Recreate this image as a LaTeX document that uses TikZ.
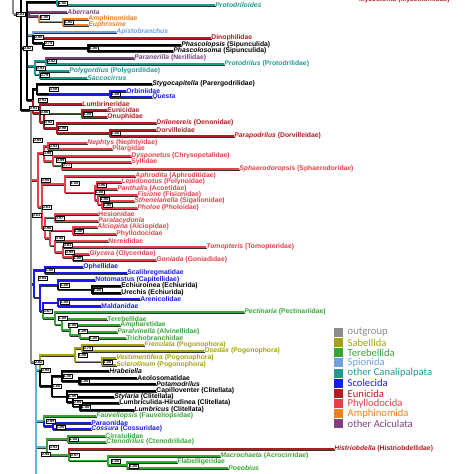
\documentclass[tikz,border=0pt]{standalone}
\usepackage{fontspec}
\setmainfont{Liberation Sans}
\newfontfamily\legfont{Carlito}
\definecolor{ogray}{HTML}{8C8C8C}
\definecolor{sabel}{HTML}{A3A20F}
\definecolor{tereb}{HTML}{35A735}
\definecolor{spion}{HTML}{6E9FDF}
\definecolor{canal}{HTML}{1F9A90}
\definecolor{scole}{HTML}{1818F0}
\definecolor{eunic}{HTML}{B01C22}
\definecolor{phyll}{HTML}{E4414A}
\definecolor{amphi}{HTML}{F07F1E}
\definecolor{acicu}{HTML}{7C4280}
\definecolor{spine}{HTML}{5BB8D4}
\begin{document}
\begin{tikzpicture}[x=1pt, y=-1pt,
		leaf/.style={anchor=west, inner sep=0.2pt, text=#1, font=\bfseries\fontsize{6.8}{7}\selectfont},
		leaf/.default=black,
		br/.style={line width=1.5pt, preaction={draw=black!80, line width=0.45pt, transform canvas={shift={(0.5pt,-1pt)}}}},
		boot/.style={anchor=west, fill=white, draw=black, line width=0.25pt, inner sep=0.4pt, font=\bfseries\fontsize{4}{4.5}\selectfont},
		legbox/.style={minimum size=9pt, inner sep=0pt},
		legtxt/.style={anchor=west, inner sep=1pt, font=\legfont\fontsize{10.6}{12}\selectfont}
		]
		\useasboundingbox (0,0) rectangle (474,474);
		\clip (0,0) rectangle (474,474);
		
		% Taxa, top to bottom
		\node[leaf=eunic] (myzo) at (359,0) {\textit{Myzostoma} (Myzostomidae)};
		\node[leaf=canal] (protd) at (215,5) {\textit{Protodriloides}};
		\node[leaf=acicu] (aber) at (67,12) {\textit{Aberranta}};
		\node[leaf=amphi] (amph) at (88,19) {Amphinomidae};
		\node[leaf=amphi] (euph) at (88,25) {\textit{Euphrosine}};
		\node[leaf=spion] (apis) at (116,32) {\textit{Apistobranchus}};
		\node[leaf=eunic] (dino) at (211,38) {Dinophilidae};
		\node[leaf] (phop) at (181,45) {\textit{Phascolopsis} (Sipunculida)};
		\node[leaf] (phos) at (173,51) {\textit{Phascolosoma} (Sipunculida)};
		\node[leaf=acicu] (para) at (134,58) {\textit{Paranerilla} (Nerillidae)};
		\node[leaf=canal] (prot) at (224,64) {\textit{Protodrilus} (Protodrilidae)};
		\node[leaf=canal] (poly) at (69,71) {\textit{Polygordius} (Polygordiidae)};
		\node[leaf=canal] (sacc) at (87,78) {\textit{Saccocirrus}};
		\node[leaf] (styg) at (152,84) {\textit{Stygocapitella} (Parergodrilidae)};
		\node[leaf=scole] (orbi) at (126,91) {Orbiniidae};
		\node[leaf=scole] (ques) at (152,97) {\textit{Questa}};
		\node[leaf=eunic] (lumb) at (82,104) {Lumbrineridae};
		\node[leaf=eunic] (euni) at (107,110) {Eunicidae};
		\node[leaf=eunic] (onup) at (107,117) {Onuphidae};
		\node[leaf=eunic] (dril) at (156,123) {\textit{Drilonereis} (Oenonidae)};
		\node[leaf=eunic] (dorv) at (156,130) {Dorvilleidae};
		\node[leaf=eunic] (parap) at (234,136) {\textit{Parapodrilus} (Dorvilleidae)};
		\node[leaf=phyll] (neph) at (87,143) {\textit{Nephtys} (Nephtyidae)};
		\node[leaf=phyll] (pila) at (112,149) {Pilargidae};
		\node[leaf=phyll] (dysp) at (131,156) {\textit{Dysponetus} (Chrysopetalidae)};
		\node[leaf=phyll] (syll) at (131,162) {Syllidae};
		\node[leaf=phyll] (spha) at (239,169) {\textit{Sphaerodoropsis} (Sphaerodoridae)};
		\node[leaf=phyll] (aphr) at (135,176) {\textit{Aphrodita} (Aphroditidae)};
		\node[leaf=phyll] (lepi) at (121,182) {\textit{Lepidonotus} (Polynoidae)};
		\node[leaf=phyll] (pant) at (117,189) {\textit{Panthalis} (Acoetidae)};
		\node[leaf=phyll] (fisi) at (137,195) {\textit{Fisione} (Fisionidae)};
		\node[leaf=phyll] (sthe) at (134,201) {\textit{Sthenelanella} (Sigalionidae)};
		\node[leaf=phyll] (phol) at (137,208) {\textit{Pholoe} (Pholoidae)};
		\node[leaf=phyll] (hesi) at (98,214) {Hesionidae};
		\node[leaf=phyll] (parl) at (98,221) {\textit{Paralacydonia}};
		\node[leaf=phyll] (alci) at (97,227) {\textit{Alciopina} (Alciopidae)};
		\node[leaf=phyll] (phyl) at (116,234) {Phyllodocidae};
		\node[leaf=phyll] (nere) at (108,241) {Nereididae};
		\node[leaf=phyll] (tomo) at (206,247) {\textit{Tomopteris} (Tomopteridae)};
		\node[leaf=phyll] (glyc) at (89,254) {\textit{Glycera} (Glyceridae)};
		\node[leaf=phyll] (goni) at (156,260) {\textit{Goniada} (Goniadidae)};
		\node[leaf=scole] (ophe) at (83,267) {Ophellidae};
		\node[leaf=scole] (scal) at (127,273) {Scalibregmatidae};
		\node[leaf=scole] (noto) at (95,280) {Notomastus (Capitellidae)};
		\node[leaf] (echi) at (121,286) {Echiuroinea (Echiurida)};
		\node[leaf] (urec) at (121,293) {Urechis (Echiurida)};
		\node[leaf=scole] (aren) at (140,299) {Arenicolidae};
		\node[leaf=scole] (mald) at (101,306) {Maldanidae};
		\node[leaf=tereb] (pect) at (244,312) {\textit{Pectinaria} (Pectinariidae)};
		\node[leaf=tereb] (tere) at (107,319) {Terebellidae};
		\node[leaf=tereb] (ampr) at (120,325) {Ampharetidae};
		\node[leaf=tereb] (palv) at (117,332) {\textit{Paralvinella} (Alvinellidae)};
		\node[leaf=tereb] (tric) at (126,338) {Trichobranchidae};
		\node[leaf=sabel] (fren) at (144,345) {\textit{Frenulata} (Pogonophora)};
		\node[leaf=sabel] (osed) at (204,351) {\textit{Osedax} (Pogonophora)};
		\node[leaf=sabel] (vest) at (116,358) {\textit{Vestimentifera} (Pogonophora)};
		\node[leaf=sabel] (scle) at (116,365) {\textit{Sclerolinum} (Pogonophora)};
		\node[leaf] (hrab) at (109,371) {\textit{Hrabeiella}};
		\node[leaf] (aeol) at (137,378) {Aeolosomatidae};
		\node[leaf] (pota) at (156,384) {\textit{Potamodrilus}};
		\node[leaf] (capi) at (156,391) {Capilloventer (Clitellata)};
		\node[leaf] (styl) at (114,397) {\textit{Stylaria} (Clitellata)};
		\node[leaf] (lumh) at (119,403) {Lumbriculida-Hirudinea (Clitellata)};
		\node[leaf] (lumr) at (134,410) {\textit{Lumbricus} (Clitellata)};
		\node[leaf=tereb] (fauv) at (96,416) {\textit{Fauveliopsis} (Fauveliopsidae)};
		\node[leaf=scole] (parn) at (91,423) {Paraonidae};
		\node[leaf=scole] (coss) at (91,429) {\textit{Cossura} (Cossuridae)};
		\node[leaf=tereb] (cirr) at (105,436) {Cirratulidae};
		\node[leaf=tereb] (cten) at (106,442) {\textit{Ctenodrilus} (Ctenodrilidae)};
		\node[leaf=eunic] (hist) at (334,449) {\textit{Histriobdella} (Histriobdellidae)};
		\node[leaf=tereb] (macr) at (220,456) {\textit{Macrochaeta} (Acrocirridae)};
		\node[leaf=tereb] (flab) at (177,462) {Flabelligeridae};
		\node[leaf=tereb] (poeo) at (228,468) {\textit{Poeobius}};
		
		% Internal nodes
		\coordinate (cut83) at (13,-8);
		\coordinate (n83) at (13,14);
		\coordinate (cut82) at (21,-8);
		\coordinate (n82) at (21,14);
		\coordinate (nV4) at (27,48);
		\coordinate (cutPd) at (150,-6);
		\coordinate (pd) at (57,2);
		\coordinate (nAb) at (28.5,16);
		\coordinate (nAmA) at (39,16);
		\coordinate (nAm) at (63,21.5);
		\coordinate (nApi) at (33,35);
		\coordinate (nSipA) at (43,43);
		\coordinate (nSip) at (88,48);
		\coordinate (nPar) at (35,66);
		\coordinate (nPN) at (46,61);
		\coordinate (nPS) at (40,74.5);
		\coordinate (nE91) at (33,100);
		\coordinate (nSty) at (37,89);
		\coordinate (nOrbA) at (49,94);
		\coordinate (nOrb) at (110,94);
		\coordinate (nE86) at (40,113);
		\coordinate (nE92) at (44,122);
		\coordinate (nEun) at (82,113.5);
		\coordinate (nDor) at (57,128);
		\coordinate (nDor2) at (110,133);
		\coordinate (nV5) at (31,110);
		\coordinate (nP95) at (38,180);
		\coordinate (nQ) at (44,153);
		\coordinate (nNP) at (48,146);
		\coordinate (nS1) at (53,160.75);
		\coordinate (nS2) at (62,165.5);
		\coordinate (nL61) at (42,207);
		\coordinate (nA0) at (65,184);
		\coordinate (nA1) at (95,192.6);
		\coordinate (nA2) at (97,185.5);
		\coordinate (nA3) at (98,199.75);
		\coordinate (nA4) at (102,204.5);
		\coordinate (nL98) at (45,228);
		\coordinate (nHes) at (55,217.5);
		\coordinate (nAN) at (50,238);
		\coordinate (nAlc) at (73,230.5);
		\coordinate (nNe) at (55,245.5);
		\coordinate (nTo) at (63,252);
		\coordinate (nGl) at (73,257);
		\coordinate (nB94) at (34,284);
		\coordinate (nOph) at (45,270);
		\coordinate (nB2) at (40,297.5);
		\coordinate (nCap) at (58,284.75);
		\coordinate (nEch) at (92,289.5);
		\coordinate (nB67) at (43,311);
		\coordinate (nAre) at (58,302.5);
		\coordinate (nT1) at (55,318);
		\coordinate (nT2) at (62,324.5);
		\coordinate (nT3) at (70,330);
		\coordinate (nT4) at (80,335);
		\coordinate (nV6) at (36,362);
		\coordinate (cut6) at (36,480);
		\coordinate (nC0) at (40,370);
		\coordinate (nSb0) at (75,355);
		\coordinate (nSb1) at (82,348);
		\coordinate (nSb2) at (102,361.5);
		\coordinate (nCl3) at (52,386);
		\coordinate (nCl4) at (62,376);
		\coordinate (nCl5) at (79,381);
		\coordinate (nCl6) at (67,396.4);
		\coordinate (nCl7) at (73,401.75);
		\coordinate (nCl8) at (80,406.5);
		\coordinate (nF0) at (44,421);
		\coordinate (nPC) at (53,426);
		\coordinate (nG0) at (47,447);
		\coordinate (nCi) at (68,439);
		\coordinate (nG1) at (69,454.75);
		\coordinate (nG2) at (108,460.5);
		\coordinate (nG3) at (127,465);
		
		% Backbone
		\draw[br, ogray] (n83) -- (cut83);
		\draw[br, ogray] (n83) -- (n82);
		\draw[br] (n82) -- (cut82);
		\draw[br] (n82) |- (nV5);
		\draw[br] (n82) |- (nV4);
		
		% Upper clades
		\draw[br, acicu] (nV4) |- (nAb);
		\draw[br, canal] (nV4) |- (nPar);
		\draw[br, spion] (nV4) |- (nApi);
		\draw[br] (nV4) |- (pd);
		\draw[br] (nV4) |- (nE91);
		\draw[br, canal] (pd) |- (protd) (pd) |- (cutPd);
		\draw[br, acicu] (nAb) |- (aber) (nAb) |- (nAmA);
		\draw[br, amphi] (nAmA) |- (nAm) (nAm) |- (amph) (nAm) |- (euph);
		\draw[br, spion] (nApi) |- (apis);
		\draw[br, eunic] (nApi) |- (dino);
		\draw[br] (nApi) |- (nSipA) (nSipA) |- (nSip) (nSip) |- (phop) (nSip) |- (phos);
		\draw[br, acicu] (nPN) |- (para);
		\draw[br, canal] (nPar) |- (nPN) (nPN) |- (prot) (nPar) |- (nPS) (nPS) |- (poly) (nPS) |- (sacc);
		\draw[br] (nE91) |- (nSty) (nSty) |- (styg) (nSty) |- (nOrbA);
		\draw[br, scole] (nOrbA) -- (nOrb) (nOrb) |- (orbi) (nOrb) |- (ques);
		
		% Eunicida
		\draw[br, eunic] (nE91) |- (nE86) (nE86) |- (lumb) (nE86) |- (nE92)
			(nE92) |- (nEun) (nEun) |- (euni) (nEun) |- (onup)
			(nE92) |- (nDor) (nDor) |- (dril) (nDor) |- (nDor2) (nDor2) |- (dorv) (nDor2) |- (parap);
		
		% Phyllodocida
		\draw[br, phyll] (nV5) |- (nP95) (nP95) |- (nQ) (nP95) |- (nL61)
			(nQ) |- (nNP) (nNP) |- (neph) (nNP) |- (pila)
			(nQ) |- (nS1) (nS1) |- (dysp) (nS1) |- (nS2) (nS2) |- (syll) (nS2) |- (spha)
			(nL61) |- (nA0) (nA0) |- (aphr) (nA0) |- (nA1)
			(nA1) |- (nA2) (nA2) |- (lepi) (nA2) |- (pant)
			(nA1) |- (nA3) (nA3) |- (fisi) (nA3) |- (nA4) (nA4) |- (sthe) (nA4) |- (phol)
			(nL61) |- (nL98) (nL98) |- (nHes) (nHes) |- (hesi) (nHes) |- (parl)
			(nL98) |- (nAN) (nAN) |- (nAlc) (nAlc) |- (alci) (nAlc) |- (phyl)
			(nAN) |- (nNe) (nNe) |- (nere) (nNe) |- (nTo) (nTo) |- (tomo) (nTo) |- (nGl)
			(nGl) |- (glyc) (nGl) |- (goni);
		
		% Scolecida and Terebellida
		\draw[br, scole] (nV5) |- (nB94) (nB94) |- (nOph) (nOph) |- (ophe) (nOph) |- (scal)
			(nB94) |- (nB2) (nB2) |- (nCap) (nCap) |- (noto)
			(nB2) |- (nB67) (nB67) |- (nAre) (nAre) |- (aren) (nAre) |- (mald);
		\draw[br] (nCap) |- (nEch) (nEch) |- (echi) (nEch) |- (urec);
		\draw[br, tereb] (nB67) |- (nT1) (nT1) |- (pect) (nT1) |- (nT2) (nT2) |- (tere)
			(nT2) |- (nT3) (nT3) |- (ampr) (nT3) |- (nT4) (nT4) |- (palv) (nT4) |- (tric);
		\draw[br, ogray] (nV5) |- (nV6);
		
		% Lower backbone
		\draw[br, spine] (nV6) |- (nC0) (nV6) |- (nF0) (nV6) |- (nG0) (nV6) -- (cut6);
		\draw[br, sabel] (nC0) |- (nSb0) (nSb0) |- (nSb1) (nSb1) |- (fren) (nSb1) |- (osed)
			(nSb0) |- (nSb2) (nSb2) |- (vest) (nSb2) |- (scle);
		\draw[br] (nC0) |- (nCl3) (nCl3) |- (nCl4) (nCl4) |- (hrab) (nCl4) |- (nCl5)
			(nCl5) |- (aeol) (nCl5) |- (pota)
			(nCl3) |- (nCl6) (nCl6) |- (capi) (nCl6) |- (nCl7) (nCl7) |- (styl)
			(nCl7) |- (nCl8) (nCl8) |- (lumh) (nCl8) |- (lumr);
		\draw[br, tereb] (nF0) |- (fauv);
		\draw[br, scole] (nF0) |- (nPC) (nPC) |- (parn) (nPC) |- (coss);
		\draw[br, eunic] (nG1) |- (hist);
		\draw[br, tereb] (nG0) |- (nCi) (nCi) |- (cirr) (nCi) |- (cten) (nG0) |- (nG1)
			(nG1) |- (nG2) (nG2) |- (macr) (nG2) |- (nG3) (nG3) |- (flab) (nG3) |- (poeo);
		
		% Support values
		\foreach \x/\y/\v [count=\i] in {58/3/1.00, 16/14/0.83, 40/17/1.00, 64/22/1.00, 34/37/0.95,
			44/43/0.74, 89/48/1.00, 47/61/0.82, 36/68/0.93, 40/75/0.79, 49/89/0.58, 111/94/1.00,
			23/48/0.82, 38/100/0.91, 29/108/0.93, 40/112/0.86, 83/114/1.00, 44/122/0.92,
			58/128/0.98, 111/133/1.00, 33/140/0.84, 49/146/0.93, 43/153/0.94, 56/160/0.99,
			62/165/0.77, 41/180/0.95, 70/183/1.00, 97/185/0.96, 95/192/1.00, 100/199/1.00,
			103/205/1.00, 42/207/0.61, 32/215/0.61, 55/218/0.97, 43/228/0.98, 74/231/1.00,
			55/238/0.98, 63/245/0.81, 65/252/0.95, 73/258/1.00, 45/270/1.00, 38/278/0.94,
			60/285/1.00, 93/290/1.00, 60/302/1.00, 43/311/0.67, 58/318/1.00, 68/325/1.00,
			78/331/1.00, 89/338/1.00, 83/348/0.75, 78/355/1.00, 103/362/1.00, 34/362/0.82,
			41/370/0.94, 63/376/1.00, 80/381/1.00, 52/386/1.00, 68/396/1.00, 73/402/0.94,
			81/407/1.00, 46/421/0.99, 56/427/1.00, 69/439/1.00, 49/447/0.93, 41/454/0.94,
			70/455/0.97, 111/461/1.00, 129/466/1.00}
		\node[boot] (bs\i) at (\x,\y) {\v};
		
		% Legend
		\foreach \c/\lab [count=\i] in {ogray/outgroup, sabel/Sabellida, tereb/Terebellida,
			spion/Spionida, canal/other Canalipalpata, scole/Scolecida, eunic/Eunicida,
			phyll/Phyllodocida, amphi/Amphinomida, acicu/other Aciculata}
		{
			\node[legbox, fill=\c] (sq\i) at (338.5,{332.5+10.15*(\i-1)}) {};
			\node[legtxt, text=\c] (lt\i) at (346.5,{332.5+10.15*(\i-1)}) {\lab};
		}
		
	\end{tikzpicture}
\end{document}
